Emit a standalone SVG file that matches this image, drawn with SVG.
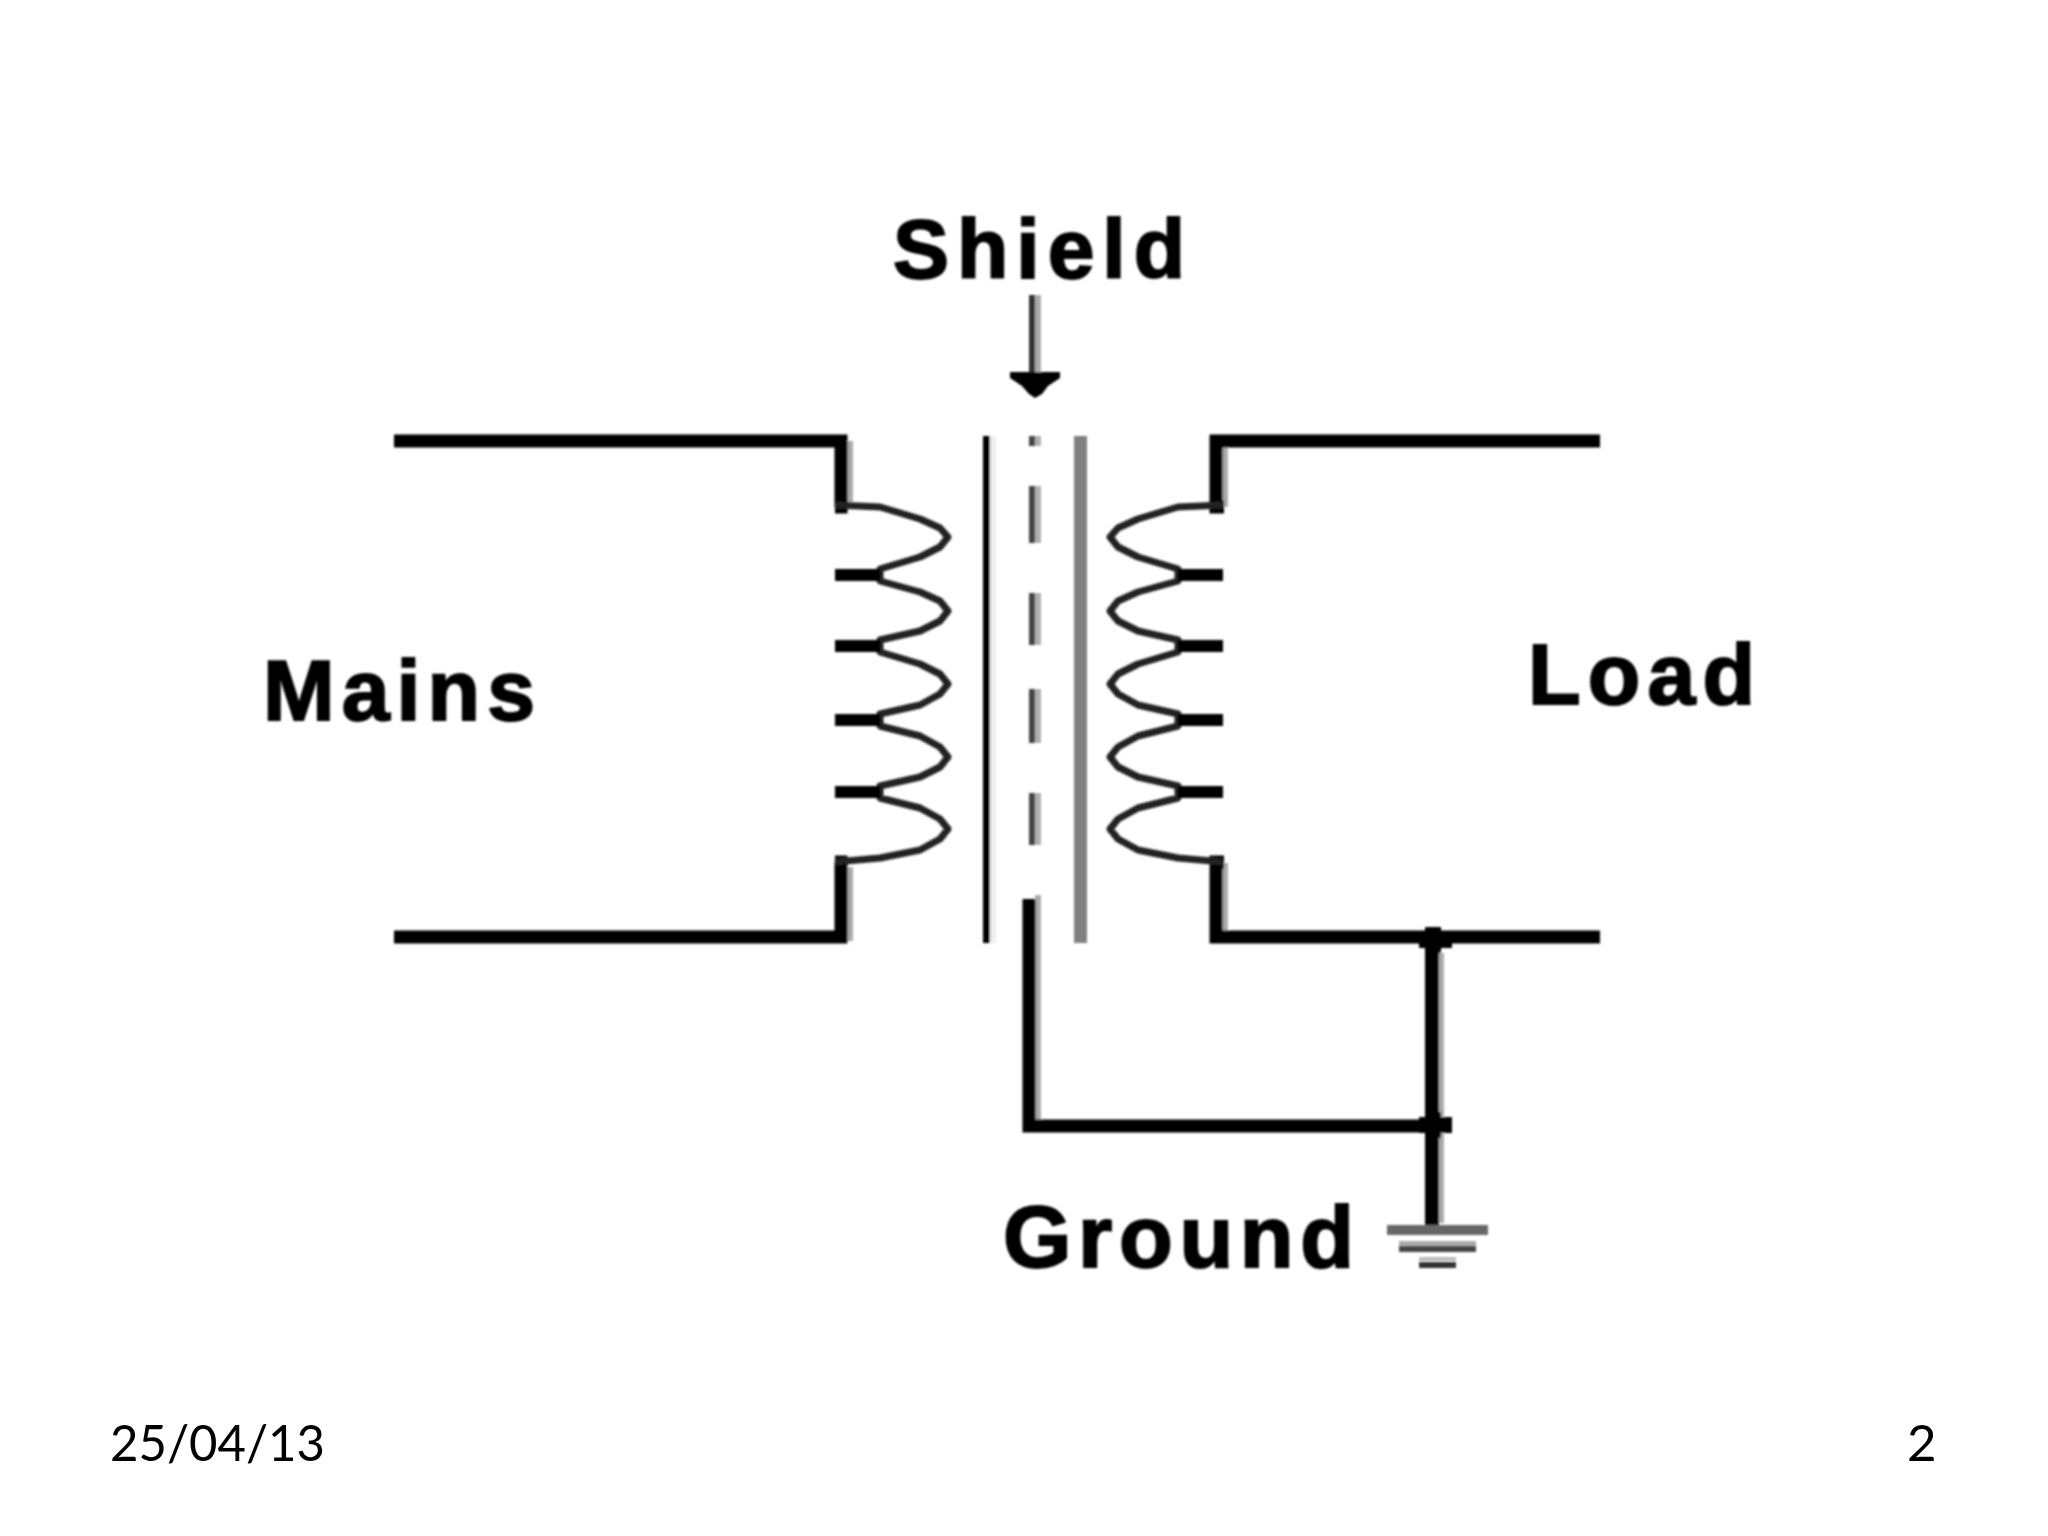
<svg xmlns="http://www.w3.org/2000/svg" width="2048" height="1536" viewBox="0 0 2048 1536">
<defs>
<filter id="soft" x="0" y="0" width="2048" height="1536" filterUnits="userSpaceOnUse"><feGaussianBlur stdDeviation="0.8"/></filter>
<g id="coil">
<path class="c" d="M835 505L880 507L920 519L940 528L948 537L940 547L920 557L880 569V581L920 592L940 601L948 611L940 621L920 631L880 640V652L920 664L940 674L948 684L940 694L920 705L880 714V726L920 736L940 747L948 757L940 767L920 777L880 786V798L920 808L940 819L948 829L940 839L920 850L880 858L835 862"/>
<path class="s" d="M835 575H880M835 646H880M835 720H880M835 792H880"/>
</g>
</defs>
<style>
.w{fill:none;stroke:#000;stroke-width:13;stroke-linejoin:miter}
.g{fill:#aaa}
.c{fill:none;stroke:#222;stroke-width:7;stroke-linejoin:round}
.s{stroke:#000;stroke-width:12}
.l{font-family:"Liberation Sans",Arial,sans-serif;font-weight:700;fill:#000;stroke:#000;stroke-width:2}
.f{font-family:Lato,"Open Sans",sans-serif;font-size:51px;fill:#000}
</style>
<rect width="2048" height="1536" fill="#fff"/>
<g filter="url(#soft)">
<g id="connectors">
<rect class="g" x="847" y="441" width="6" height="62"/>
<rect class="g" x="847" y="867" width="6" height="74"/>
<rect class="g" x="1222" y="447" width="6" height="60"/>
<rect class="g" x="1222" y="863" width="6" height="68"/>
<rect class="g" x="1035" y="895" width="6" height="226"/>
<rect class="g" x="1439" y="953" width="5" height="270"/>
<path class="w" d="M394 441H841V507H835"/>
<path class="w" d="M394 937H841V862H835"/>
<path class="w" d="M1600 441H1216V507H1224"/>
<path class="w" d="M1600 937H1216V862H1224"/>
<path class="w" d="M1432 937V1230" style="stroke-width:14"/>
<path class="w" d="M1029 899V1126H1432"/>
<rect x="1029" y="295" width="6" height="78" fill="#333"/>
<rect class="g" x="1035" y="295" width="6" height="78"/>
<path d="M1010 372H1060V378L1048 386L1042 394L1035 398L1029 394L1022 386L1010 378Z" fill="#000"/>
</g>
<g id="primary-coil"><use href="#coil"/></g>
<g id="secondary-coil"><use href="#coil" transform="translate(2058 0) scale(-1 1)"/></g>
<g id="shield">
<rect x="983" y="436" width="7" height="507" fill="#000"/>
<rect x="990" y="436" width="6" height="507" fill="#eee"/>
<rect x="1074" y="436" width="13" height="507" fill="#808080"/>
<path d="M1032 436V446M1032 486V543M1032 593V645M1032 689V743M1032 793V845" stroke="#444" stroke-width="6"/>
<path d="M1038 436V446M1038 486V543M1038 593V645M1038 689V743M1038 793V845" stroke="#b0b0b0" stroke-width="6"/>
</g>
<g id="junctions">
<path d="M1425 927H1441V932H1452V948H1441V953H1425V948H1419V932H1425Z" fill="#000"/>
<path d="M1425 1112H1441V1117H1452V1133H1441V1138H1425V1133H1419V1117H1425Z" fill="#000"/>
</g>
<g id="ground">
<rect x="1387" y="1225" width="101" height="10" fill="#666"/>
<rect x="1399" y="1241" width="77" height="5" fill="#aaa"/>
<rect x="1399" y="1246" width="77" height="6" fill="#444"/>
<rect x="1419" y="1257" width="37" height="4" fill="#bbb"/>
<rect x="1419" y="1262" width="37" height="6" fill="#333"/>
</g>
<g id="labels">
<text class="l" x="893" y="278" font-size="84" textLength="292" lengthAdjust="spacing">Shield</text>
<text class="l" x="263" y="720" font-size="86" textLength="272" lengthAdjust="spacing">Mains</text>
<text class="l" x="1528" y="704" font-size="86" textLength="227" lengthAdjust="spacing">Load</text>
<text class="l" x="1003" y="1267" font-size="88" textLength="351" lengthAdjust="spacing">Ground</text>
</g>
</g>
<g id="footer">
<text class="f" x="110" y="1461" textLength="215" lengthAdjust="spacingAndGlyphs">25/04/13</text>
<text class="f" x="1907" y="1461">2</text>
</g>
</svg>
